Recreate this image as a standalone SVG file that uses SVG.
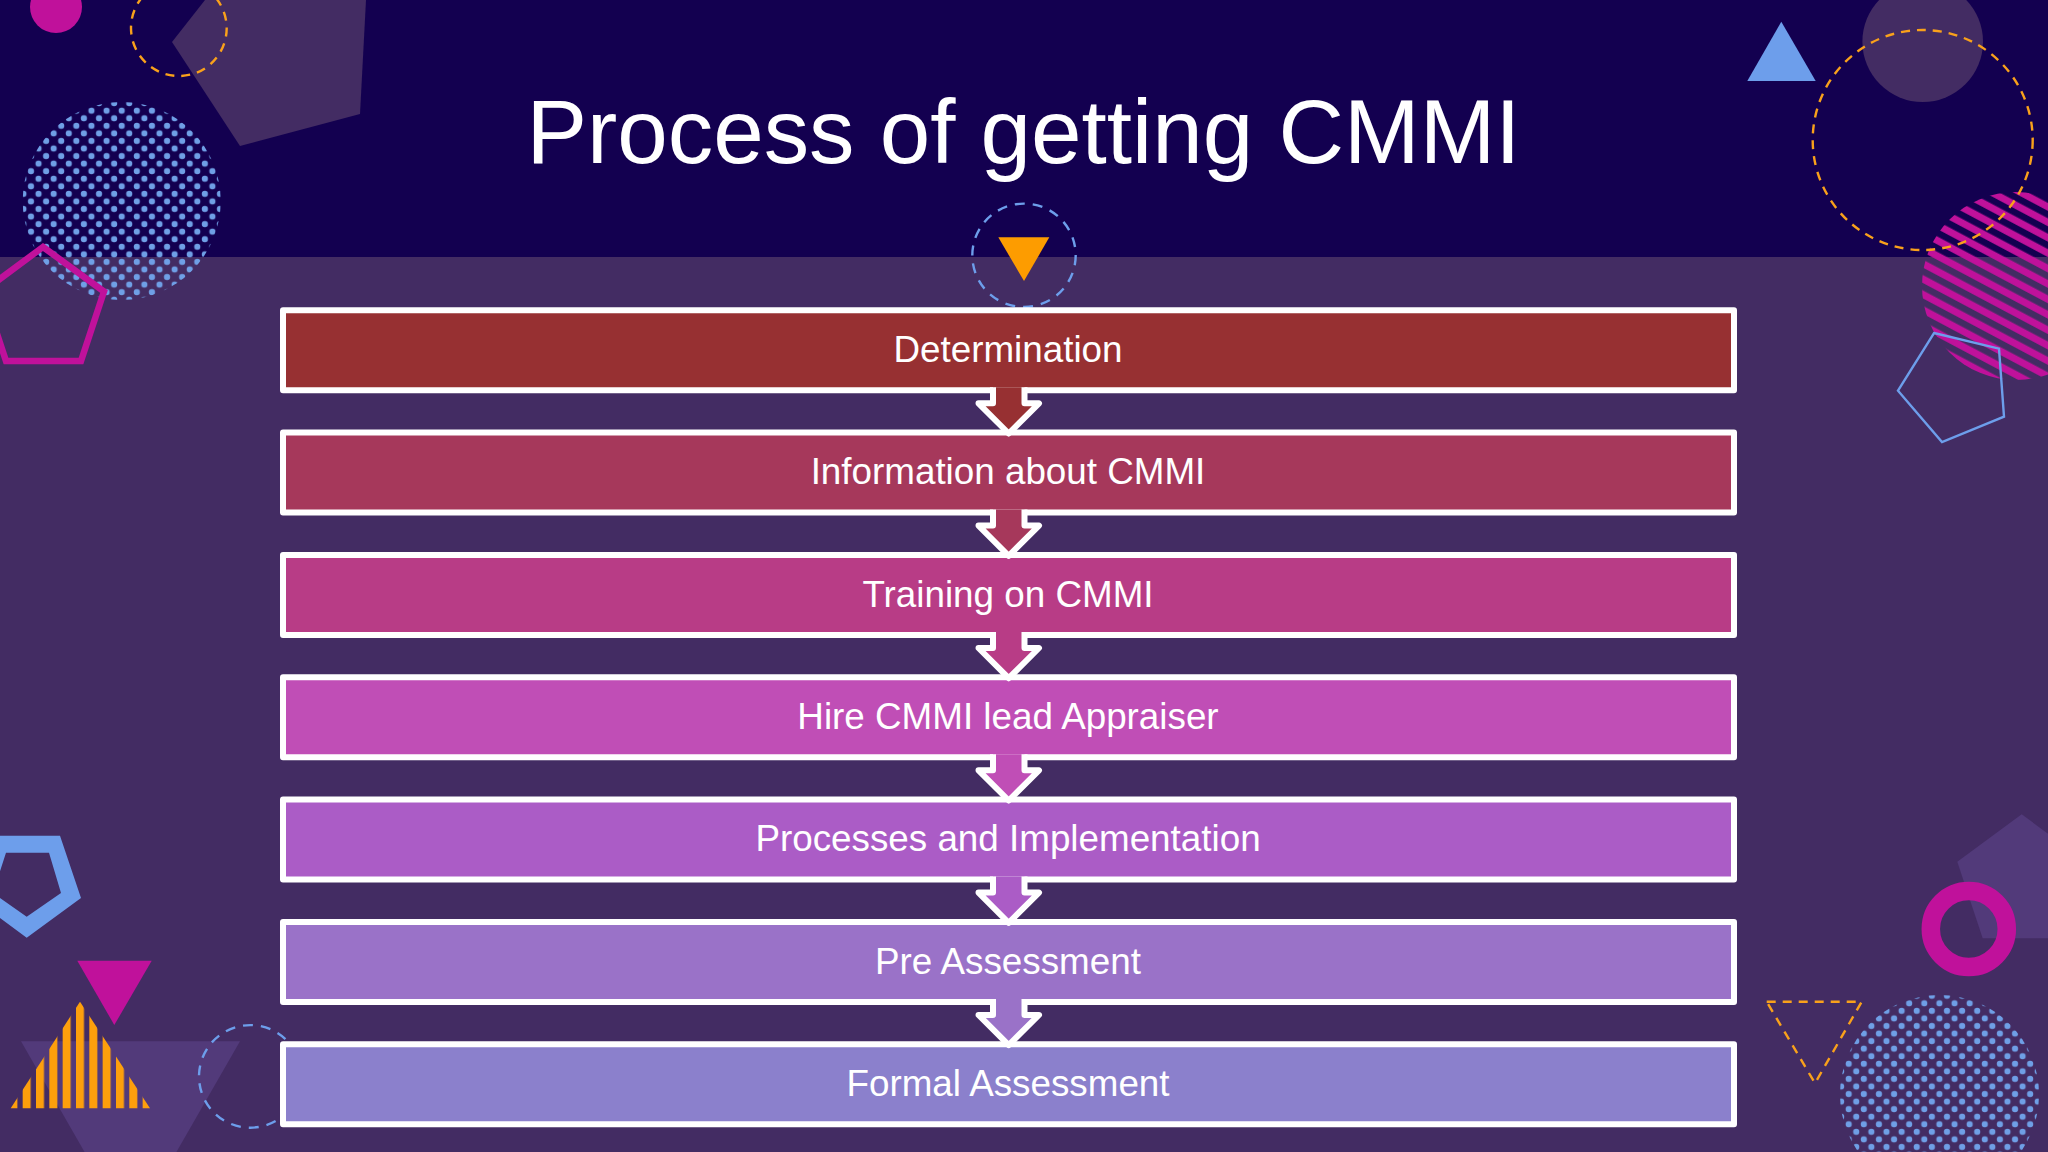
<svg xmlns="http://www.w3.org/2000/svg" width="2048" height="1152" viewBox="0 0 2048 1152">
<style>
.box{stroke:#fff;stroke-width:6;stroke-linejoin:round}
.arrow{stroke:#fff;stroke-width:6;stroke-linejoin:round}
.lbl{font-family:"Liberation Sans",Arial,sans-serif;font-size:36.8px;fill:#fff;text-anchor:middle}
.title{font-family:"Liberation Sans",Arial,sans-serif;font-size:90.8px;fill:#fff;text-anchor:middle}
.dashO{fill:none;stroke:#f9a11b;stroke-width:2.4;stroke-dasharray:9 7}
.dashB{fill:none;stroke:#6d9eeb;stroke-width:2.4;stroke-dasharray:10 8}
.panel{fill:#432c63}
.pale{fill:#523a7a}
.mag{fill:#c0119b}
.blue{fill:#6d9eeb}
</style>
<defs>
<pattern id="dots1" patternUnits="userSpaceOnUse" x="121.7" y="110.7" width="15.12" height="15.12"><circle cx="0" cy="0" r="3.1" fill="#6f9fe6"/><circle cx="15.12" cy="0" r="3.1" fill="#6f9fe6"/><circle cx="0" cy="15.12" r="3.1" fill="#6f9fe6"/><circle cx="15.12" cy="15.12" r="3.1" fill="#6f9fe6"/><circle cx="7.56" cy="7.56" r="3.1" fill="#6f9fe6"/></pattern>
<pattern id="dots2" patternUnits="userSpaceOnUse" x="1924.3" y="1003.3" width="15.12" height="15.12"><circle cx="0" cy="0" r="3.1" fill="#6f9fe6"/><circle cx="15.12" cy="0" r="3.1" fill="#6f9fe6"/><circle cx="0" cy="15.12" r="3.1" fill="#6f9fe6"/><circle cx="15.12" cy="15.12" r="3.1" fill="#6f9fe6"/><circle cx="7.56" cy="7.56" r="3.1" fill="#6f9fe6"/></pattern>
<pattern id="hatch" patternUnits="userSpaceOnUse" width="40" height="13.6" patternTransform="rotate(28)"><rect x="0" y="6.5" width="40" height="7" fill="#c0119b"/></pattern>
<pattern id="bars" patternUnits="userSpaceOnUse" x="22.67" y="0" width="13.33" height="40"><rect x="0" y="0" width="8" height="40" fill="#fd9f0c"/></pattern>
</defs>
<rect x="0" y="0" width="2048" height="1152" fill="#130050"/>
<rect class="panel" x="0" y="257" width="2048" height="895"/>
<g id="decor">
<circle class="mag" cx="56" cy="7" r="26"/>
<circle class="dashO" cx="179" cy="28" r="48"/>
<polygon class="panel" points="172,42 240,146 360,114 366,0 205,0"/>
<path class="dashO" d="M216,-2 A48,48 0 0 1 193,74"/>
<circle cx="121.7" cy="201" r="99" fill="url(#dots1)"/>
<polygon points="43,247 104,291.5 81,361 6,361 -17,291.5" fill="none" stroke="#c0119b" stroke-width="6.5"/>
<polygon class="blue" points="1781.3,21.7 1747.3,81 1815.7,81"/>
<circle class="panel" cx="1922.7" cy="41.7" r="60.3"/>
<circle cx="2016" cy="286" r="94" fill="url(#hatch)"/>
<circle class="dashO" cx="1922.7" cy="140" r="110"/>
<polygon points="1934,333 1999,348.7 2004,416.7 1942,442 1898,390.7" fill="none" stroke="#6d9eeb" stroke-width="2.4"/>
<path class="blue" fill-rule="evenodd" d="M60,835.7 L81,898 L26.7,937.7 L-27,898 L-6,835.7 Z M49,852.7 L61,893 L26.7,916.7 L-7,893 L6,852.7 Z"/>
<polygon class="pale" points="21,1041.3 240,1041.3 130.5,1232"/>
<polygon class="mag" points="77.3,960.7 151.7,960.7 114.3,1025"/>
<polygon points="80,1001.7 150,1108.3 10.7,1108.3" fill="url(#bars)"/>
<circle class="dashB" cx="250.3" cy="1076.4" r="51.3"/>
<polygon class="pale" points="2021.7,814.3 1957.3,861.7 1982.7,938.3 2060.7,938.3 2086,861.7"/>
<circle cx="1968.8" cy="929" r="38" fill="none" stroke="#c0119b" stroke-width="18.5"/>
<polygon class="dashO" points="1766.7,1001.7 1861.7,1001.7 1815,1083.3"/>
<circle cx="1939.5" cy="1094.5" r="99.5" fill="url(#dots2)"/>
<circle class="dashB" cx="1024" cy="255.3" r="51.7"/>
<polygon points="998.3,237.3 1049.3,237.3 1024,281" fill="#fd9c00"/>
</g>
<text id="title" class="title" x="1023.5" y="163">Process of getting CMMI</text>
<g id="n1"><rect class="box" x="283" y="310.3" width="1451" height="80" fill="#973032"/><text class="lbl" x="1008" y="362">Determination</text></g>
<g id="n2"><rect class="box" x="283" y="432.6" width="1451" height="80" fill="#a6385b"/><text class="lbl" x="1008" y="484.3">Information about CMMI</text></g>
<g id="n3"><rect class="box" x="283" y="555" width="1451" height="80" fill="#b83c86"/><text class="lbl" x="1008" y="606.7">Training on CMMI</text></g>
<g id="n4"><rect class="box" x="283" y="677.3" width="1451" height="80" fill="#c04eb6"/><text class="lbl" x="1008" y="729">Hire CMMI lead Appraiser</text></g>
<g id="n5"><rect class="box" x="283" y="799.6" width="1451" height="80" fill="#ab5cc6"/><text class="lbl" x="1008" y="851.3">Processes and Implementation</text></g>
<g id="n6"><rect class="box" x="283" y="921.9" width="1451" height="80" fill="#9a72c8"/><text class="lbl" x="1008" y="973.6">Pre Assessment</text></g>
<g id="n7"><rect class="box" x="283" y="1044.3" width="1451" height="80" fill="#8b80cc"/><text class="lbl" x="1008" y="1096">Formal Assessment</text></g>
<g id="connectors">
<path class="arrow" fill="#973032" d="M993,387.3 V403.3 H978.5 L1008.7,433.5 L1039,403.3 H1024.5 V387.3"/>
<path class="arrow" fill="#a6385b" d="M993,509.6 V525.6 H978.5 L1008.7,555.8 L1039,525.6 H1024.5 V509.6"/>
<path class="arrow" fill="#b83c86" d="M993,632 V648 H978.5 L1008.7,678.2 L1039,648 H1024.5 V632"/>
<path class="arrow" fill="#c04eb6" d="M993,754.3 V770.3 H978.5 L1008.7,800.5 L1039,770.3 H1024.5 V754.3"/>
<path class="arrow" fill="#ab5cc6" d="M993,876.6 V892.6 H978.5 L1008.7,922.8 L1039,892.6 H1024.5 V876.6"/>
<path class="arrow" fill="#9a72c8" d="M993,998.9 V1014.9 H978.5 L1008.7,1045.1 L1039,1014.9 H1024.5 V998.9"/>
</g>
</svg>
